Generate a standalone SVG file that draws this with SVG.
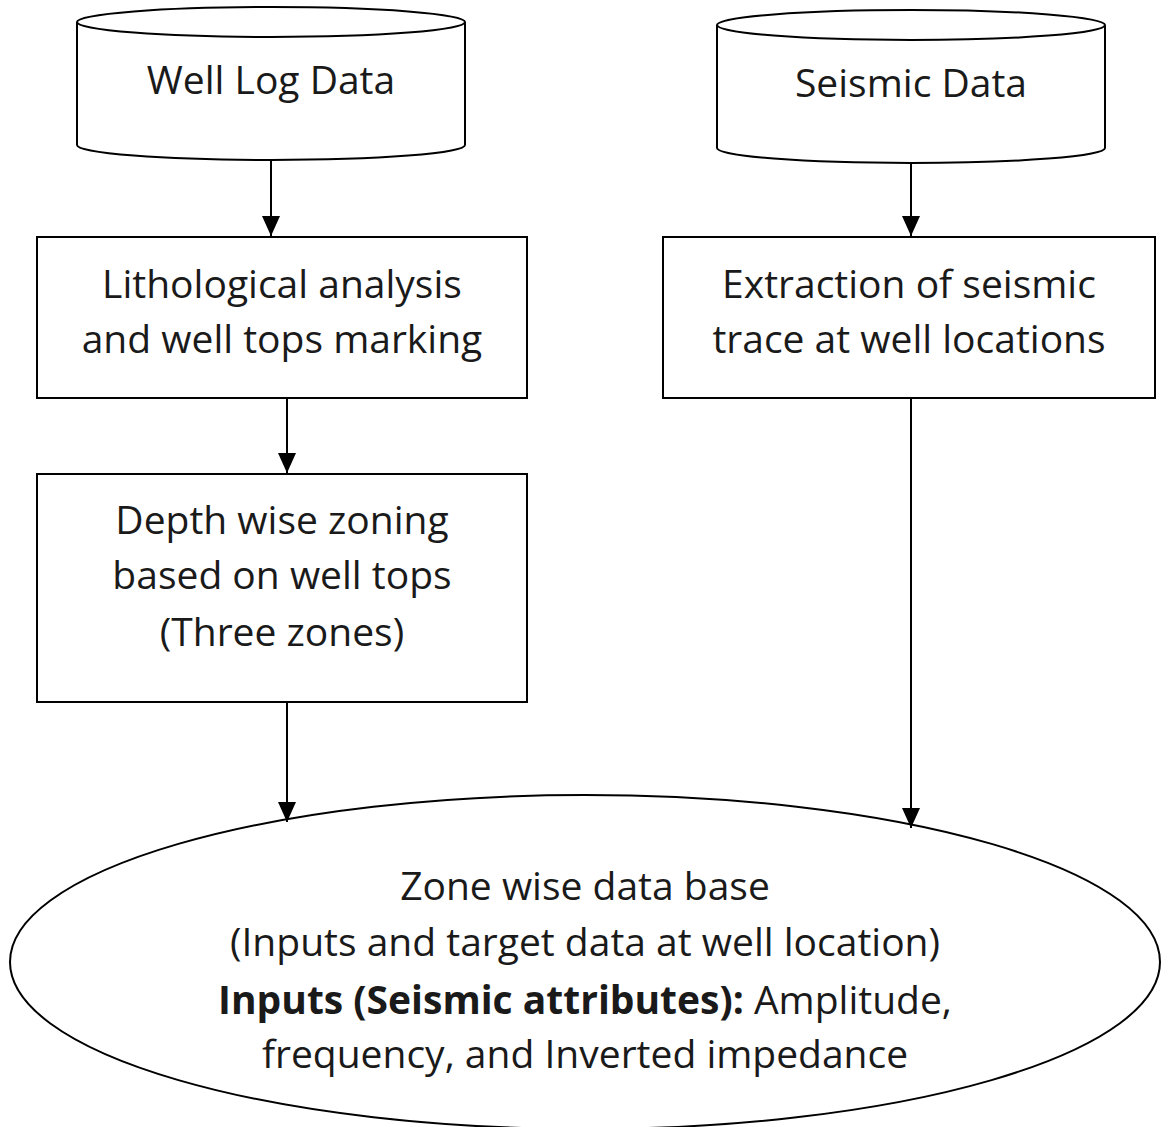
<svg xmlns="http://www.w3.org/2000/svg" width="1175" height="1127" viewBox="0 0 1175 1127">
<defs>
<style>
.s{fill:#fff;stroke:#000;stroke-width:2}
.t{font-family:"Open Sans","Liberation Sans",sans-serif;font-size:39px;fill:#1a1a1a;text-anchor:middle}
.c{stroke:#000;stroke-width:2;fill:none}
</style>
<marker id="a" markerWidth="20" markerHeight="22" refX="20" refY="9" orient="auto" markerUnits="userSpaceOnUse" viewBox="0 0 20 18"><path d="M0,0 L20,9 L0,18 z" fill="#000"/></marker>
</defs>
<rect width="1175" height="1127" fill="#fff"/>
<g id="well">
<path class="s" d="M77,22 A194,15 0 0 1 465,22 L465,145 A194,15 0 0 1 77,145 Z"/>
<path class="c" d="M77,22 A194,15 0 0 0 465,22"/>
<text class="t" x="271" y="94">Well Log Data</text>
</g>
<g id="seismic">
<path class="s" d="M717,25 A194,15 0 0 1 1105,25 L1105,148 A194,15 0 0 1 717,148 Z"/>
<path class="c" d="M717,25 A194,15 0 0 0 1105,25"/>
<text class="t" x="911" y="97">Seismic Data</text>
</g>
<g id="litho">
<rect class="s" x="37" y="237" width="490" height="161"/>
<text class="t" x="282" y="298">Lithological analysis</text>
<text class="t" x="282" y="353">and well tops marking</text>
</g>
<g id="extract">
<rect class="s" x="663" y="237" width="492" height="161"/>
<text class="t" x="909" y="298">Extraction of seismic</text>
<text class="t" x="909" y="353">trace at well locations</text>
</g>
<g id="depth">
<rect class="s" x="37" y="474" width="490" height="228"/>
<text class="t" x="282" y="534">Depth wise zoning</text>
<text class="t" x="282" y="589">based on well tops</text>
<text class="t" x="282" y="646">(Three zones)</text>
</g>
<g id="zone">
<ellipse class="s" cx="585" cy="962" rx="575" ry="167"/>
<text class="t" x="585" y="900">Zone wise data base</text>
<text class="t" x="585" y="956">(Inputs and target data at well location)</text>
<text class="t" x="585" y="1014"><tspan font-weight="bold">Inputs (Seismic attributes):</tspan> Amplitude,</text>
<text class="t" x="585" y="1068">frequency, and Inverted impedance</text>
</g>
<g id="connectors">
<line class="c" x1="271" y1="161" x2="271" y2="236" marker-end="url(#a)"/>
<line class="c" x1="911" y1="164" x2="911" y2="236" marker-end="url(#a)"/>
<line class="c" x1="287" y1="398" x2="287" y2="473" marker-end="url(#a)"/>
<line class="c" x1="911" y1="398" x2="911" y2="828" marker-end="url(#a)"/>
<line class="c" x1="287" y1="702" x2="287" y2="822" marker-end="url(#a)"/>
</g>
</svg>
